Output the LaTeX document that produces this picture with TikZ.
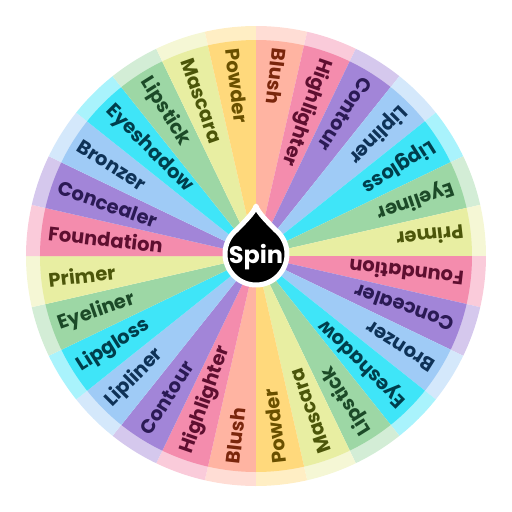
\documentclass[tikz,border=0pt]{standalone}
\usepackage{fontspec}
\setmainfont{Poppins}

\definecolor{peach}{HTML}{FFB4A2}
\definecolor{gold}{HTML}{FFD97C}
\definecolor{pale}{HTML}{E8EEA2}
\definecolor{mint}{HTML}{9DD7A5}
\definecolor{aqua}{HTML}{3FE5F8}
\definecolor{sky}{HTML}{9FCBF6}
\definecolor{lilac}{HTML}{A285D8}
\definecolor{rose}{HTML}{F48CAD}
\definecolor{peachdk}{HTML}{7A260C}
\definecolor{golddk}{HTML}{6A5000}
\definecolor{paledk}{HTML}{4C560A}
\definecolor{mintdk}{HTML}{1C4A28}
\definecolor{aquadk}{HTML}{003E4C}
\definecolor{skydk}{HTML}{0E3257}
\definecolor{lilacdk}{HTML}{2B1A55}
\definecolor{rosedk}{HTML}{5E0F30}

\begin{document}
\begin{tikzpicture}[lbl/.style={anchor=west,inner sep=0pt,font=\bfseries\fontsize{19.5}{19.5}\selectfont},
                    spinlbl/.style={text=white,font=\bfseries\fontsize{24}{24}\selectfont}]
\useasboundingbox (-256pt,-256pt) rectangle (256pt,256pt);

% two rounds of the same 14 items
\foreach \h in {0,1}{
  \foreach \word/\col [count=\i from 0] in {Blush/peach,Highlighter/rose,Contour/lilac,Lipliner/sky,
      Lipgloss/aqua,Eyeliner/mint,Primer/pale,Foundation/rose,Concealer/lilac,Bronzer/sky,
      Eyeshadow/aqua,Lipstick/mint,Mascara/pale,Powder/gold}{
    \pgfmathsetmacro\a{90-(\h*14+\i)*360/28}
    \pgfmathsetmacro\b{\a-360/28}
    \pgfmathsetmacro\m{\a-180/28}
    \fill[\col!45!white] (0,0) -- (\a:230pt) arc[start angle=\a,end angle=\b,radius=230pt] -- cycle;
    \fill[\col] (0,0) -- (\a:216pt) arc[start angle=\a,end angle=\b,radius=216pt] -- cycle;
    \node[lbl,text=\col dk,rotate=\m+180] (l\h\i) at (\m:209pt) {\word};
  }
}

% spin button
\begin{scope}[shift={(0,2pt)}]
\filldraw[fill=black,draw=white,line width=5pt,line join=round]
  (0,48pt) .. controls (2pt,41pt) and (13pt,31pt) .. (52:31pt)
  arc[start angle=52,end angle=-232,radius=31pt]
  .. controls (-13pt,31pt) and (-2pt,41pt) .. cycle;
\node[spinlbl] (spin) at (0,-3pt) {Spin};
\end{scope}
\end{tikzpicture}
\end{document}
